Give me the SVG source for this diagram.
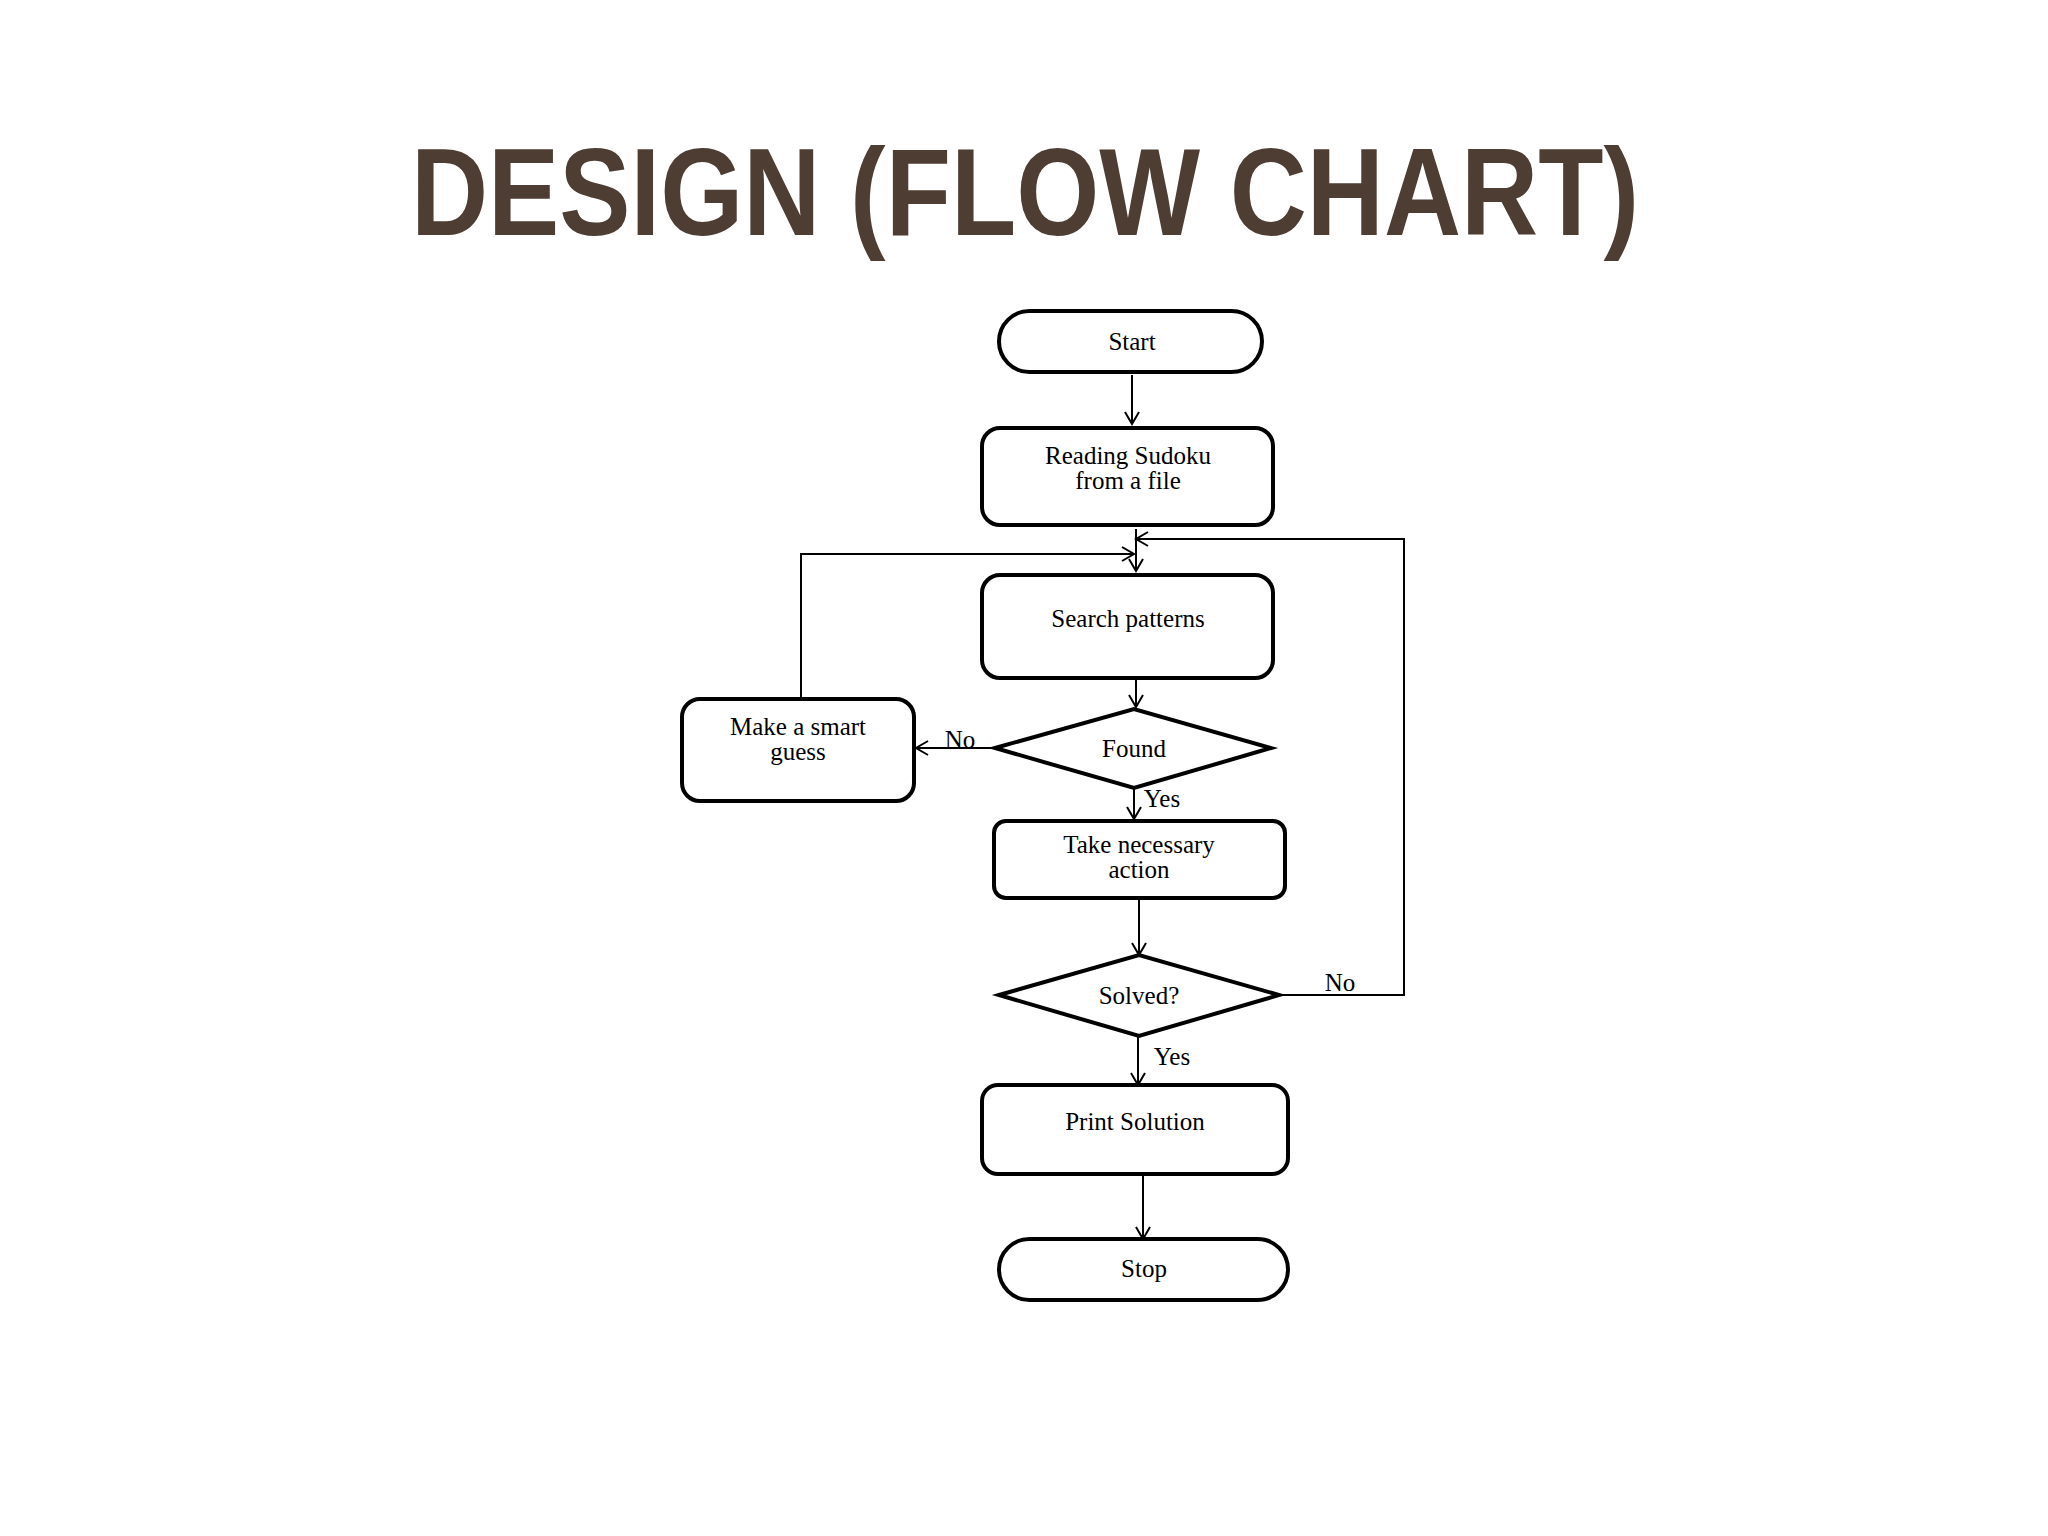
<svg xmlns="http://www.w3.org/2000/svg" width="2048" height="1536" viewBox="0 0 2048 1536">
<defs>
<marker id="arr" markerWidth="16" markerHeight="16" refX="13" refY="8" orient="auto" markerUnits="userSpaceOnUse">
<path d="M1,1 L13,8 L1,15" fill="none" stroke="#000" stroke-width="2"/>
</marker>
</defs>
<style>
.n{fill:#fff;stroke:#000;stroke-width:4}
.t{font-family:"Liberation Serif",serif;font-size:25px;fill:#000;text-anchor:middle}
.c{fill:none;stroke:#000;stroke-width:2}
</style>
<rect width="2048" height="1536" fill="#fff"/>
<text x="1025" y="235" font-family="Liberation Sans Narrow,Liberation Sans,sans-serif" font-weight="bold" font-size="124" fill="#4d3d33" text-anchor="middle" textLength="1228" lengthAdjust="spacingAndGlyphs">DESIGN (FLOW CHART)</text>
<g id="connectors">
<path class="c" d="M1132,375 V424" marker-end="url(#arr)"/>
<path class="c" d="M1136,529 V571" marker-end="url(#arr)"/>
<path class="c" d="M801,699 V554 H1134" marker-end="url(#arr)"/>
<path class="c" d="M1282,995 H1404 V539 H1136" marker-end="url(#arr)"/>
<path class="c" d="M1136,680 V707" marker-end="url(#arr)"/>
<path class="c" d="M995,748 H916" marker-end="url(#arr)"/>
<path class="c" d="M1134,788 V819" marker-end="url(#arr)"/>
<path class="c" d="M1139,898 V955" marker-end="url(#arr)"/>
<path class="c" d="M1138,1036 V1085" marker-end="url(#arr)"/>
<path class="c" d="M1143,1174 V1239" marker-end="url(#arr)"/>
<text class="t" x="960" y="748">No</text>
<text class="t" x="1162" y="807">Yes</text>
<text class="t" x="1340" y="991">No</text>
<text class="t" x="1172" y="1065">Yes</text>
</g>
<g id="start"><rect class="n" x="999" y="311" width="263" height="61" rx="30.5"/><text class="t" x="1132" y="350">Start</text></g>
<g id="read"><rect class="n" x="982" y="428" width="291" height="97" rx="18"/><text class="t" x="1128" y="464">Reading Sudoku</text><text class="t" x="1128" y="489">from a file</text></g>
<g id="search"><rect class="n" x="982" y="575" width="291" height="103" rx="18"/><text class="t" x="1128" y="627">Search patterns</text></g>
<g id="found"><polygon class="n" points="995,748 1134,709 1271,748 1134,788"/><text class="t" x="1134" y="757">Found</text></g>
<g id="guess"><rect class="n" x="682" y="699" width="232" height="102" rx="18"/><text class="t" x="798" y="735">Make a smart</text><text class="t" x="798" y="760">guess</text></g>
<g id="take"><rect class="n" x="994" y="821" width="291" height="77" rx="12"/><text class="t" x="1139" y="853">Take necessary</text><text class="t" x="1139" y="878">action</text></g>
<g id="solved"><polygon class="n" points="999,995 1139,955 1279,995 1139,1036"/><text class="t" x="1139" y="1004">Solved?</text></g>
<g id="print"><rect class="n" x="982" y="1085" width="306" height="89" rx="16"/><text class="t" x="1135" y="1130">Print Solution</text></g>
<g id="stop"><rect class="n" x="999" y="1239" width="289" height="61" rx="30.5"/><text class="t" x="1144" y="1277">Stop</text></g>
</svg>
